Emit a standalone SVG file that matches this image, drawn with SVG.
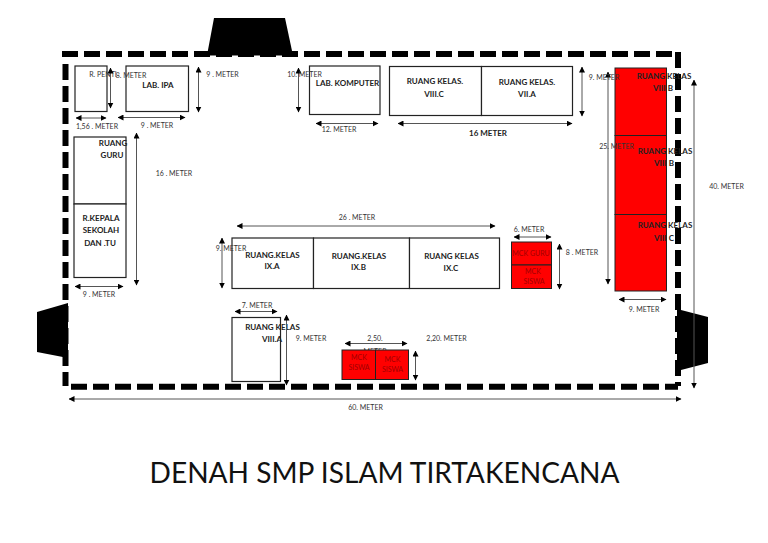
<svg xmlns="http://www.w3.org/2000/svg" width="768" height="543" viewBox="0 0 768 543">
<style>
.room{fill:#fff;stroke:#222;stroke-width:1.2}
.red{fill:#f00;stroke:#222;stroke-width:1}
.wall{fill:none;stroke:#000;stroke-width:6;stroke-dasharray:16 6}
.gate{fill:#000}
.dim{fill:none;stroke:#555;stroke-width:1;marker-start:url(#a);marker-end:url(#a)}
text{font-family:"Lato","Liberation Sans",sans-serif;text-anchor:middle}
.m{font-size:7px;fill:#333}
.b{font-size:8px;font-weight:700;fill:#222}
.s{font-size:7px;fill:#a00000}
</style>
<defs><marker id="a" viewBox="0 0 6 6" refX="5.5" refY="3" markerWidth="6" markerHeight="6" markerUnits="userSpaceOnUse" orient="auto-start-reverse"><path d="M0 0L6 3L0 6Z" fill="#000"/></marker></defs>
<rect width="768" height="543" fill="#fff"/>
<g id="walls">
<path class="wall" d="M62 54H678"/>
<path class="wall" d="M65.500 64V386"/>
<path class="wall" d="M71 386.700H678"/>
<path class="wall" d="M678 52V386"/>
</g>
<g id="gate-top"><path class="gate" d="M214 18H285L293 55.500H207Z"/></g>
<g id="gate-left"><path class="gate" d="M37 312L68 303V358L37 352Z"/></g>
<g id="gate-right"><path class="gate" d="M677 310H681L708 317V363L681 370H677Z"/></g>
<text class="m" x="375" y="353.500">METER</text>
<g id="r-penti"><rect class="room" x="75" y="66" width="32" height="45.500"/><text class="m" x="103" y="76.500">R. PENTI</text></g>
<g id="lab-ipa"><rect class="room" x="126" y="66" width="62.500" height="45.500"/><text class="b" x="158" y="88">LAB. IPA</text></g>
<g id="lab-komputer"><rect class="room" x="309.500" y="66" width="70.500" height="48.500"/><text class="b" x="347.500" y="86">LAB. KOMPUTER</text></g>
<g id="kelas-viii-c"><rect class="room" x="389.500" y="66.500" width="92" height="49"/><text class="b" x="435" y="84">RUANG KELAS.</text><text class="b" x="434" y="96.500">VIII.C</text></g>
<g id="kelas-vii-a"><rect class="room" x="481.500" y="66.500" width="91" height="49"/><text class="b" x="527" y="84.500">RUANG KELAS.</text><text class="b" x="527" y="97">VII.A</text></g>
<g id="ruang-guru"><rect class="room" x="74" y="137" width="52" height="67"/><text class="b" x="113" y="145.500">RUANG</text><text class="b" x="112" y="158">GURU</text></g>
<g id="kepala"><rect class="room" x="74" y="204" width="52" height="73.500"/><text class="b" x="101" y="221">R.KEPALA</text><text class="b" x="101" y="233">SEKOLAH</text><text class="b" x="100" y="245.500">DAN .TU</text></g>
<g id="kelas-ix-a"><rect class="room" x="232" y="238" width="81.500" height="50.500"/><text class="b" x="272.500" y="257.500">RUANG.KELAS</text><text class="b" x="272" y="269">IX.A</text></g>
<g id="kelas-ix-b"><rect class="room" x="313.500" y="238" width="96" height="50.500"/><text class="b" x="359" y="258.500">RUANG.KELAS</text><text class="b" x="358.500" y="270">IX.B</text></g>
<g id="kelas-ix-c"><rect class="room" x="409.500" y="238" width="90" height="50.500"/><text class="b" x="451.500" y="258.500">RUANG KELAS</text><text class="b" x="451" y="271">IX.C</text></g>
<g id="kelas-viii-a"><rect class="room" x="232" y="317.500" width="48.500" height="64"/><text class="b" x="272.500" y="329.500">RUANG KELAS</text><text class="b" x="272" y="341.500">VIII.A</text></g>
<g id="kelas-viii-b1"><rect class="red" x="615" y="68" width="51.500" height="67.500"/><text class="b" x="664" y="78.500">RUANG KELAS</text><text class="b" x="663" y="90.500">VIII B</text></g>
<g id="kelas-viii-b2"><rect class="red" x="615" y="135.500" width="51.500" height="79"/><text class="b" x="665" y="153.500">RUANG KELAS</text><text class="b" x="664" y="165.500">VIII B</text></g>
<g id="kelas-viii-c2"><rect class="red" x="615" y="214.500" width="51.500" height="76.500"/><text class="b" x="665" y="228">RUANG KELAS</text><text class="b" x="664" y="240.500">VIII C</text></g>
<g id="mck-guru"><rect class="red" x="511.500" y="242" width="40" height="23"/><text class="s" x="531" y="256">MCK GURU</text></g>
<g id="mck-siswa-1"><rect class="red" x="511.500" y="265" width="40" height="23.500"/><text class="s" x="533" y="273.500">MCK</text><text class="s" x="534" y="283.500">SISWA</text></g>
<g id="mck-siswa-2"><rect class="red" x="342" y="350" width="33.500" height="29.500"/><text class="s" x="359" y="360">MCK</text><text class="s" x="359" y="370">SISWA</text></g>
<g id="mck-siswa-3"><rect class="red" x="375.500" y="350" width="33" height="29.500"/><text class="s" x="392.500" y="362">MCK</text><text class="s" x="392.500" y="372">SISWA</text></g>
<g id="connectors">
<path class="dim" d="M76 118H106"/>
<path class="dim" d="M118 117.500H185"/>
<path class="dim" d="M110.500 68V108"/>
<path class="dim" d="M198.500 67V112"/>
<path class="dim" d="M298.500 68V112"/>
<path class="dim" d="M316 123.500H378"/>
<path class="dim" d="M136.500 133V285"/>
<path class="dim" d="M75 286.500H123"/>
<path class="dim" d="M398 123.500H572"/>
<path class="dim" d="M582 67V116"/>
<path class="dim" d="M608 72V284"/>
<path class="dim" d="M694 80V388"/>
<path class="dim" d="M237 226H495"/>
<path class="dim" d="M514 237H551"/>
<path class="dim" d="M559.500 244V289"/>
<path class="dim" d="M619 299.500H666"/>
<path class="dim" d="M345 343.500H407"/>
<path class="dim" d="M415.500 351V380"/>
<path class="dim" d="M235 311.500H277"/>
<path class="dim" d="M286.500 315V385"/>
<path class="dim" d="M222 238V288"/>
<path class="dim" d="M69 399H681"/>
</g>
<g id="labels">
<text class="m" x="131" y="77.500">8. METER</text>
<text class="m" x="222.500" y="76.500">9 . METER</text>
<text class="m" x="304.500" y="76.500">10. METER</text>
<text class="m" x="97" y="128.500">1,56 . METER</text>
<text class="m" x="157" y="127.500">9 . METER</text>
<text class="m" x="339" y="131.500">12. METER</text>
<text class="m" x="174" y="175.500">16 . METER</text>
<text class="b" x="488" y="135.500">16 METER</text>
<text class="m" x="604" y="79.500">9. METER</text>
<text class="m" x="616.500" y="149">25. METER</text>
<text class="m" x="726.500" y="188.500">40. METER</text>
<text class="m" x="357" y="220">26 . METER</text>
<text class="m" x="529" y="231.500">6. METER</text>
<text class="m" x="582" y="254.500">8 . METER</text>
<text class="m" x="644" y="312">9. METER</text>
<text class="m" x="99" y="297">9 . METER</text>
<text class="m" x="231" y="250.500">9. METER</text>
<text class="m" x="257" y="307.500">7. METER</text>
<text class="m" x="311" y="340.500">9. METER</text>
<text class="m" x="375" y="341">2,50.</text>
<text class="m" x="446.500" y="340.500">2,20. METER</text>
<text class="m" x="365.500" y="410">60. METER</text>
<text x="384.500" y="483" style="font-size:28.100px;fill:#111">DENAH SMP ISLAM TIRTAKENCANA</text>
</g>
</svg>
